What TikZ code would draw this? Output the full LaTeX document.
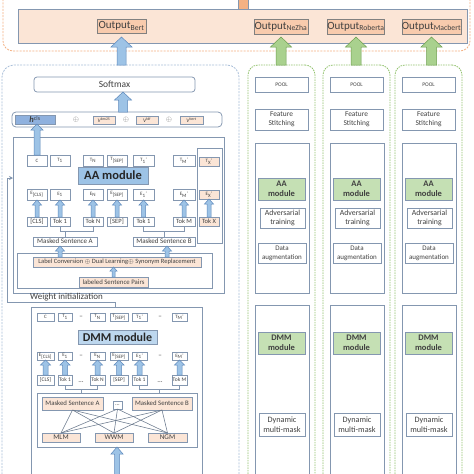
\documentclass[tikz,border=0pt]{standalone}
\usepackage{fontspec}
\setmainfont{Carlito}
\usetikzlibrary{calc,arrows.meta}
\definecolor{bgray}{HTML}{8497B0}
\definecolor{peach}{HTML}{FBE5D6}
\definecolor{salmon}{HTML}{F8CBAD}
\definecolor{odash}{HTML}{F4B183}
\definecolor{bdash}{HTML}{A9BFD9}
\definecolor{gdash}{HTML}{92C26E}
\definecolor{arrb}{HTML}{9DC3E6}
\definecolor{arrbd}{HTML}{5E89BC}
\definecolor{arrg}{HTML}{A9D18E}
\definecolor{arrgd}{HTML}{6E9F4F}
\definecolor{gmod}{HTML}{C5E0B4}
\definecolor{aafill}{HTML}{9DC3E6}
\definecolor{dmfill}{HTML}{BDD7EE}
\definecolor{hfill}{HTML}{8FB1DE}
\definecolor{txt}{HTML}{404040}
\newcommand{\fs}[1]{\fontsize{#1}{#1}\selectfont}
\newcommand{\bx}[7][]{\node[box,#1,minimum width={((#5)-(#3))*1pt},minimum height={((#6)-(#4))*1pt}] (#2) at ({((#3)+(#5))/2},{((#4)+(#6))/2}) {#7};}
\newcommand{\uparr}[6][barr]{\draw[#1] let \p1=(#2), \p2=(#3) in
  (\x1-#4pt,\y1) -- (\x1-#4pt,\y2-#6pt) -- (\x1-#5pt,\y2-#6pt) -- (\x1,\y2) -- (\x1+#5pt,\y2-#6pt) -- (\x1+#4pt,\y2-#6pt) -- (\x1+#4pt,\y1) -- cycle;}
\tikzset{
  box/.style={draw=bgray,line width=0.75pt,fill=white,inner sep=0pt,outer sep=0pt,align=center,text=txt,font=\fs{6}},
  obox/.style={fill=peach},
  tbox/.style={font=\fs{5}},
  tobox/.style={font=\fs{5},fill=peach},
  barr/.style={fill=arrb,draw=arrbd,line width=0.5pt},
  garr/.style={fill=arrg,draw=arrgd,line width=0.5pt},
  conn/.style={draw=bgray,line width=0.7pt},
  lpanel/.style={draw=bdash,fill=none,line width=0.8pt,dash pattern=on 2pt off 1.2pt,rounded corners=12pt},
  gpanel/.style={draw=gdash,fill=none,line width=0.8pt,dash pattern=on 1.5pt off 1pt,rounded corners=10pt},
  gbox/.style={fill=gmod,font={\fontsize{8.5}{10}\selectfont\bfseries}},
  cbox/.style={font={\fontsize{7.8}{9}\selectfont}},
  gap/.style={font=\fs{7},text=txt,inner sep=0pt},
  outb/.style={fill=salmon,draw=gray,line width=0.8pt,font=\fs{11}},
}
\begin{document}
\begin{tikzpicture}[x=1pt,y=-1pt]
\clip (0,0) rectangle (474,474);
\fill[white] (0,0) rectangle (474,474);
% ---------- top output panel ----------
\draw[draw=odash,line width=0.8pt,dash pattern=on 2pt off 1.2pt,rounded corners=10pt] (3,-20) -- (3,51) -- (470,51) -- (470,-20);
\bx[fill=odash,draw=bgray]{stub}{238}{-5}{248}{9}{}
\bx[fill=peach,line width=0.8pt]{op}{18}{9}{467}{43}{}
\bx[outb]{ob}{97}{19}{146}{33}{Output\textsubscript{Bert}}
\bx[outb]{on}{254}{19}{308}{34}{Output\textsubscript{NeZha}}
\bx[outb]{or}{329}{19}{383}{34}{Output\textsubscript{Roberta}}
\bx[outb]{om}{403}{19}{460}{34}{Output\textsubscript{Macbert}}
\coordinate (ytop) at (0,37);
% ---------- left panel ----------
\bx[lpanel]{lp}{2}{65}{239}{520}{}
\uparr{ob.south |- lp.north}{ob.south |- ytop}{4.5}{10.5}{10}
\bx[rounded corners=3pt,font=\fs{9.5}]{sm}{34}{77}{195}{92}{Softmax}
\bx[rounded corners=4pt]{hrow}{12}{112}{222}{127}{}
\coordinate (smx) at (123,0);
\uparr{hrow.north -| smx}{sm.south -| smx}{4.5}{8.5}{8}
\bx[fill=hfill,font=\fs{8.5}]{hcls}{15}{115}{55}{124}{\textbf{\textit{h}}\textsuperscript{cls}}
\node[font=\fs{7},text=gray] (op1) at (76,120) {$\oplus$};
\node[font=\fs{7},text=gray] (op2) at (126,120) {$\oplus$};
\node[font=\fs{7},text=gray] (op3) at (169,120) {$\oplus$};
\bx[obox,font=\fs{5.5}]{vbm}{93}{116}{115}{124}{\textit{V}\textsuperscript{bm25}}
\bx[obox,font=\fs{5.5}]{vld}{136}{116}{158}{124}{\textit{V}\textsuperscript{ldf}}
\bx[obox,font=\fs{5.5}]{vbe}{180}{116}{203}{124}{\textit{V}\textsuperscript{bert}}
% AA area
\bx{aa}{13}{137}{224}{293}{}
\bx{colx}{197}{148}{222}{243}{}
\foreach \i/\a/\b/\t/\e/\k in {
 1/27/47/C/{E\textsubscript{[CLS]}}/{[CLS]},
 2/50/70/{T\textsubscript{1}}/{E\textsubscript{1}}/{Tok 1},
 3/83/103/{T\textsubscript{N}}/{E\textsubscript{N}}/{Tok N},
 4/107/127/{T\textsubscript{[SEP]}}/{E\textsubscript{[SEP]}}/{[SEP]},
 5/133/154/{T\textsubscript{1}'}/{E\textsubscript{1}'}/{Tok 1},
 6/173/195/{T\textsubscript{M}'}/{E\textsubscript{M}'}/{Tok M}}{
 \bx[tbox]{at\i}{\a}{155}{\b}{166}{\t}
 \bx[tbox]{ae\i}{\a}{189}{\b}{200}{\e}
 \bx[tbox,font=\fs{6.5}]{ak\i}{\a}{217}{\b}{226}{\k}
 \uparr{ak\i.north}{ae\i.south}{2}{4.5}{5}
}
\bx[tobox]{at7}{199}{157}{219}{166}{T\textsubscript{X}'}
\bx[tobox]{ae7}{199}{190}{219}{199}{E\textsubscript{X}'}
\bx[tobox,font=\fs{6.5}]{ak7}{199}{217}{219}{226}{Tok X}
\uparr{ak7.north}{ae7.south}{2}{4.5}{5}
\uparr{at1.north}{hcls.south -| at1.north}{3}{6}{6}
\bx[fill=aafill,font=\fs{12.5}\bfseries,text=black!85]{aam}{78}{167}{148}{184}{AA module}
\bx[font=\fs{7}]{msa}{33}{237}{97}{246}{Masked Sentence A}
\bx[font=\fs{7}]{msb}{133}{237}{195}{246}{Masked Sentence B}
\coordinate (brA) at (0,231);
\draw[conn] (ak2.south) |- (brA -| ak3.south) -- (ak3.south);
\draw[conn] (msa.north) -- (msa.north |- brA);
\draw[conn] (ak5.south) |- (brA -| ak6.south) -- (ak6.south);
\draw[conn] (msb.north) -- (msb.north |- brA);
\bx{aug}{17}{253}{212}{288}{}
\bx[obox,font=\fs{6.5}]{strip}{33}{257}{201}{267}{Label Conversion $\oplus$ Dual Learning$\oplus$ Synonym Replacement}
\bx[obox,font=\fs{6.8}]{lsp}{79}{277}{148}{287}{labeled Sentence Pairs}
\uparr{lsp.north}{strip.south}{1.5}{3.5}{4}
\coordinate (axA) at (60,0);
\coordinate (axB) at (167,0);
\uparr{strip.north -| axA}{msa.south -| axA}{2}{4.5}{5}
\uparr{strip.north -| axB}{msb.south -| axB}{2}{4.5}{5}
% weight initialization
\bx{dmm}{31}{307}{202}{520}{}
\coordinate (wiA) at (115,302);
\coordinate (wiB) at (7,178);
\draw[conn,-{Stealth[length=4pt,width=4pt]}] (dmm.north -| wiA) -- (wiA) -- (wiA -| wiB) -- (wiB) -- (aa.west |- wiB);
\node[font=\fs{9},text=txt,anchor=base west,inner sep=0pt] (wil) at (30,299) {Weight initialization};
% DMM area
\foreach \i/\a/\b/\t/\e/\k in {
 1/37/54/C/{E\textsubscript{[CLS]}}/{[CLS]},
 2/58/72/{T\textsubscript{1}}/{E\textsubscript{1}}/{Tok 1},
 3/90/105/{T\textsubscript{N}}/{E\textsubscript{N}}/{Tok N},
 4/110/128/{T\textsubscript{[SEP]}}/{E\textsubscript{[SEP]}}/{[SEP]},
 5/132/147/{T\textsubscript{1}'}/{E\textsubscript{1}'}/{Tok 1},
 6/172/187/{T\textsubscript{M}'}/{E\textsubscript{M}'}/{Tok M}}{
 \bx[tbox]{dt\i}{\a}{313}{\b}{321}{\t}
 \bx[tbox]{de\i}{\a}{352}{\b}{360}{\e}
 \bx[tbox,font=\fs{5.5}]{dk\i}{\a}{375}{\b}{385}{\k}
 \uparr{dk\i.north}{de\i.south}{2.5}{5}{5}
}
\node[gap] (g1) at (81,317) {--};
\node[gap] (g2) at (160,317) {--};
\node[gap] (g3) at (81,356) {--};
\node[gap] (g4) at (160,356) {--};
\node[gap] (g5) at (81,382) {\dots};
\node[gap] (g6) at (160,382) {\dots};
\bx[fill=dmfill,font=\fs{12}\bfseries,text=black!85]{dmmm}{78}{330}{157}{344}{DMM module}
\coordinate (brC) at (0,389);
\draw[conn] (dk2.south) |- (brC -| dk3.south) -- (dk3.south);
\draw[conn] (dk5.south) |- (brC -| dk6.south) -- (dk6.south);
\bx{mrect}{37}{393}{197}{447}{}
\draw[conn] ($(dk2.south |- brC)!0.5!(dk3.south |- brC)$) -- ++(0,4);
\draw[conn] ($(dk5.south |- brC)!0.5!(dk6.south |- brC)$) -- ++(0,4);
\bx[obox,font=\fs{6.8}]{mma}{42}{397}{103}{410}{Masked Sentence A}
\bx[font=\fs{6}]{mmd}{113}{401}{122}{409}{\dots}
\bx[obox,font=\fs{6.8}]{mmb}{132}{397}{192}{410}{Masked Sentence B}
\bx[obox,font=\fs{7.2}]{mlm}{42}{433}{80}{442}{MLM}
\bx[obox,font=\fs{7.2}]{wwm}{95}{433}{133}{442}{WWM}
\bx[obox,font=\fs{7.2}]{ngm}{148}{433}{187}{442}{NGM}
\foreach \s in {mma,mmd,mmb}{\foreach \t in {mlm,wwm,ngm}{\draw[draw=bgray!80!black,line width=0.55pt] (\s.south) -- (\t.north);}}
\coordinate (bot) at (117,480);
\uparr{bot}{mrect.south -| bot}{2.5}{6}{7}
% ---------- right columns ----------
\foreach \c/\L/\o in {a/255/on, b/330/or, c/402/om}{
  \bx[gpanel]{col\c}{\L-7}{65}{\L+60}{520}{}
  \uparr[garr]{\o.south |- col\c.north}{\o.south |- ytop}{5}{10.5}{10}
  \bx[font=\fs{5.5}]{pool\c}{\L}{77}{\L+53}{92}{POOL}
  \bx[cbox,font={\fontsize{7.4}{9}\selectfont}]{fst\c}{\L}{109}{\L+53}{130}{Feature\\Stitching}
  \bx{bigA\c}{\L}{143}{\L+54}{293}{}
  \bx[gbox]{aam\c}{\L+3}{178}{\L+50}{200}{AA\\module}
  \bx[cbox]{adv\c}{\L+5}{208}{\L+50}{228}{Adversarial\\training}
  \bx[cbox,font={\fontsize{7}{9}\selectfont}]{dau\c}{\L+3}{243}{\L+51}{263}{Data\\augmentation}
  \bx{bigB\c}{\L}{305}{\L+54}{520}{}
  \bx[gbox]{dmm\c}{\L+3}{332}{\L+50}{354}{DMM\\module}
  \bx[cbox,font={\fontsize{8.2}{9.5}\selectfont}]{dyn\c}{\L+4}{413}{\L+50}{436}{Dynamic\\multi-mask}
}
\end{tikzpicture}
\end{document}
